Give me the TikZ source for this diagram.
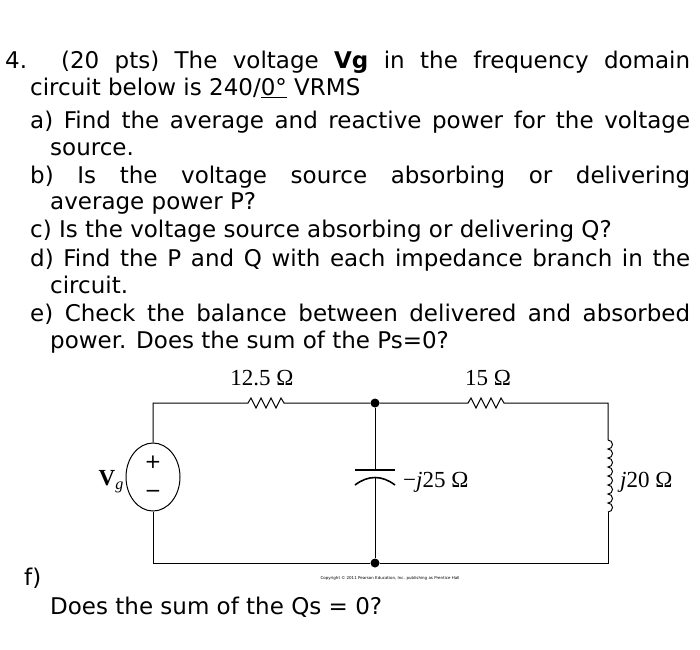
\documentclass[tikz,border=0pt]{standalone}
\usepackage{fontspec}
\setmainfont{DejaVu Sans}
\newfontfamily\ckt{Liberation Serif}
\usetikzlibrary{shapes.geometric}
\begin{document}
\begin{tikzpicture}[x=1pt,y=-1pt,
  txt/.style={anchor=base west,inner sep=0pt,font=\fontsize{23}{26}\selectfont},
  lbl/.style={inner sep=0pt,font=\ckt\fontsize{23}{25}\selectfont},
  wire/.style={line width=1pt},
  dot/.style={circle,fill,inner sep=0pt,minimum size=9pt}]
\useasboundingbox[fill=white] (0,0) rectangle (700,649);
% text
\node[txt] (l1) at (5,68) {\makebox[685pt][s]{4.  (20 pts) The voltage \textbf{Vg} in the frequency domain}};
\node[txt] (l2) at (30,95) {circuit below is 240/\underline{0°} VRMS};
\node[txt] (la) at (30,128) {\makebox[660pt][s]{a)  Find the average and reactive power for the voltage}};
\node[txt] (la2) at (50,155) {source.};
\node[txt] (lb) at (30,183) {\makebox[660pt][s]{b)  Is the voltage source absorbing or delivering}};
\node[txt] (lb2) at (50,209) {average power P?};
\node[txt] (lc) at (30,237) {c)  Is the voltage source absorbing or delivering Q?};
\node[txt] (ld) at (30,266) {\makebox[660pt][s]{d)  Find the P and Q with each impedance branch in the}};
\node[txt] (ld2) at (50,293) {circuit.};
\node[txt] (le) at (30,321) {\makebox[660pt][s]{e)  Check the balance between delivered and absorbed}};
\node[txt] (le2) at (50,348) {power.  Does the sum of the Ps=0?};
\node[txt] (lf) at (24,585) {f)};
\node[txt] (lf2) at (50,614) {Does the sum of the Qs = 0?};
% circuit nodes
\coordinate (tl) at (153,403);
\coordinate (bl) at (153,563);
\node[dot] (nt) at (375,403) {};
\node[dot] (nb) at (375,563) {};
\coordinate (tr) at (608,403);
\coordinate (br) at (608,563);
\node[ellipse,draw,line width=1pt,minimum width=54pt,minimum height=68pt,inner sep=0pt] (src) at (153,477) {};
\node[font=\fontsize{20}{20}\selectfont] at (153,462) {+};
\node[font=\fontsize{20}{20}\selectfont] at (153,494) {−};
% wires
\draw[wire] (src.north) -- (tl) -- (248,403)
  -- (251,398) -- (256,408) -- (261,398) -- (266,408) -- (271,398) -- (276,408) -- (281,398) -- (284,403) -- (nt);
\draw[wire] (nt) -- (468,403)
  -- (471,398) -- (476,408) -- (481,398) -- (486,408) -- (491,398) -- (496,408) -- (501,398) -- (504,403) -- (tr) -- (608,440);
\draw[wire] (608,440) arc (-90:90:4.5) arc (-90:90:4.5) arc (-90:90:4.5) arc (-90:90:4.5) arc (-90:90:4.5) arc (-90:90:4.5) arc (-90:90:4.5) arc (-90:90:4.5);
\draw[wire] (608,512) -- (br) -- (nb) -- (bl) -- (src.south);
\draw[wire] (nt) -- (375,470);
\draw[line width=1.6pt] (355,470) -- (395,470);
\draw[line width=1.6pt] (355,485) .. controls (368,475) and (382,475) .. (395,485);
\draw[wire] (375,477.5) -- (nb);
% labels
\node[lbl] (r1) at (262,378) {12.5 Ω};
\node[lbl] (r2) at (488,378) {15 Ω};
\node[lbl,anchor=west] (c) at (403,482) {−\textit{j}25 Ω};
\node[lbl,anchor=west] (l) at (620,482) {\textit{j}20 Ω};
\node[lbl,anchor=east] (vg) at (124,482) {\textbf{V}\textsubscript{\textit{g}}};
\node[font=\fontsize{4}{5}\selectfont,inner sep=0pt] (cp) at (390,578) {Copyright © 2011 Pearson Education, Inc. publishing as Prentice Hall};
\end{tikzpicture}
\end{document}
